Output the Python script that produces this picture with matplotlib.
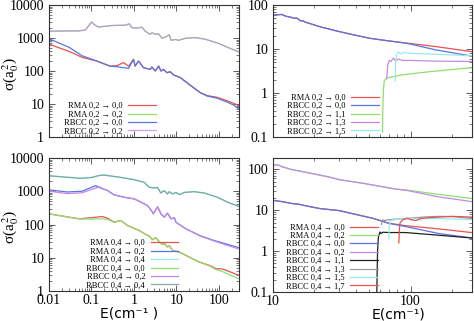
import matplotlib
matplotlib.use("Agg")
import matplotlib.pyplot as plt
from matplotlib.ticker import LogLocator, FuncFormatter, NullFormatter

plt.rcParams['font.family'] = ['Liberation Serif', 'DejaVu Serif']
plt.rcParams['mathtext.fontset'] = 'stix'

# ---- top left: j=2 initial state, elastic / rotational ----
tl_e_up = [0.01, 0.05, 0.071, 0.085, 0.1, 0.12, 0.146, 0.3, 0.62, 0.78, 0.9, 1.2, 1.55, 1.85,
           2.43, 2.66, 3.19, 3.83, 4.6, 5.5, 6.8, 7.6, 9.5, 11.3, 16.3, 28, 48, 100, 207, 300]
tl_rma_22 = [1620, 1650, 1750, 2300, 3100, 2500, 2150, 2400, 2450, 2700, 2050, 2000, 2150, 1620,
             1290, 1450, 1300, 1350, 980, 1070, 1250, 850, 910, 850, 980, 1030, 920, 680, 455, 380]
tl_rbcc_22 = [1600, 1640, 1720, 2250, 3000, 2450, 2150, 2380, 2450, 2650, 2050, 2000, 2100, 1600,
              1290, 1430, 1300, 1330, 980, 1060, 1230, 850, 900, 850, 980, 1030, 920, 680, 455, 380]

tl_e_lo = [0.01, 0.03, 0.06, 0.134, 0.276, 0.40, 0.57, 0.75, 0.98, 1.07, 1.29, 1.69, 2.43, 2.66,
           3.19, 3.83, 4.35, 5.0, 6.0, 7.2, 8.65, 12.4, 17.9, 25.6, 36.9, 53, 91, 157, 226, 300]
tl_rma_20 = [650, 390, 260, 200, 140, 145, 180, 140, 226, 141, 200, 126, 112, 132,
             100, 141, 100, 112, 89, 95, 76, 63, 44, 31, 22, 18, 16, 12.5, 10.5, 8.7]
tl_rbcc_20 = [950, 520, 290, 200, 140, 135, 126, 120, 226, 141, 200, 126, 112, 132,
              100, 141, 100, 112, 89, 95, 76, 63, 44, 31, 22, 17.5, 15, 11.5, 9.2, 6.9]

# ---- top right ----
tr_e = [10, 11.6, 12.3, 13.4, 14.1, 14.9, 15.8, 16.7, 17.1, 22, 29, 38.5, 50.7, 67, 88, 99, 154, 280]
tr_rma_20 = [59, 61, 56, 53, 50, 50.5, 44, 43, 41, 32, 25.7, 21, 17.5, 15.5, 13.9, 13.4, 11.3, 8.7]
tr_rbcc_20 = [59, 61, 56, 53, 50, 50.5, 44, 43, 41, 32, 25.7, 21, 17.5, 15.5, 13.9, 13.0, 9.5, 6.9]
tr_e_11 = [62.5, 63, 63.5, 64.5, 67, 74.8, 88, 138, 241, 280]
tr_rbcc_11 = [0.13, 0.5, 1.2, 1.9, 2.2, 2.35, 2.6, 3.05, 3.6, 3.75]
tr_e_13 = [67, 68.5, 70, 72, 75, 78, 82, 87, 100, 150, 280]
tr_rbcc_13 = [2.1, 4.5, 5.5, 5.2, 6.2, 5.4, 5.9, 5.5, 5.5, 5.3, 5.2]
tr_e_15 = [77.5, 78, 79, 82, 85, 90, 100, 150, 280]
tr_rbcc_15 = [1.9, 5, 7.5, 8.5, 7.8, 8.3, 8.0, 7.6, 7.0]

# ---- bottom left: j=4 initial state ----
bl_e_top = [0.01, 0.056, 0.1, 0.15, 0.2, 0.49, 1.02, 1.75, 2.3, 3.0, 3.6, 4.3, 5.2, 6.2, 6.8,
            8.2, 9.8, 11.8, 15.4, 26.6, 46, 95, 163, 300]
bl_rma_44 = [2950, 2450, 2600, 3000, 3100, 2630, 2240, 1860, 1320, 1260, 1320, 890, 1050, 830, 980,
             830, 930, 790, 930, 980, 890, 660, 470, 350]
bl_rbcc_44 = [2900, 2450, 2580, 2950, 3050, 2600, 2220, 1850, 1320, 1250, 1300, 890, 1040, 830, 970,
              830, 920, 790, 920, 970, 880, 650, 465, 345]

bl_e_mid = [0.01, 0.027, 0.06, 0.126, 0.152, 0.239, 0.343, 0.59, 1.02, 1.46, 2.1, 2.76, 2.86, 3.62,
            4.35, 5.2, 6.2, 7.5, 9.0, 9.8, 11.8, 16.9, 24.3, 35, 72, 149, 300]
bl_rma_42 = [1100, 950, 1000, 1480, 1300, 1050, 780, 660, 590, 470, 370, 234, 209, 340,
             210, 166, 219, 148, 160, 117, 100, 74, 59, 47, 34, 26, 20]
bl_rbcc_42 = [1000, 850, 900, 1250, 1350, 1050, 780, 660, 590, 470, 370, 234, 209, 340,
              210, 166, 219, 148, 160, 117, 100, 74, 59, 46, 33, 24, 18.5]

bl_e_lo = [0.01, 0.051, 0.1, 0.182, 0.25, 0.343, 0.49, 0.71, 1.34, 1.92, 2.3, 2.76, 3.3, 3.97,
           4.75, 5.2, 6.2, 6.8, 8.2, 11.8, 16.9, 24.3, 35, 60, 86, 120, 149, 300]
bl_rma_40 = [209, 148, 160, 174, 150, 117, 132, 93, 66, 50, 45, 35, 40, 30,
             25, 27, 21, 23, 16.6, 14.8, 11.7, 9.3, 7.4, 5.9, 4.7, 4.6, 4.2, 2.95]
bl_rbcc_40 = [209, 148, 145, 150, 140, 117, 132, 93, 66, 50, 45, 35, 40, 30,
              25, 27, 21, 23, 16.6, 14.8, 11.7, 9.3, 7.4, 5.7, 4.4, 3.9, 3.4, 2.34]

# ---- bottom right ----
br_e_top = [10, 11, 11.5, 13.2, 25.7, 30.3, 44.6, 78, 92, 160, 279]
br_rma_42 = [129, 127, 118, 102, 65, 56, 46, 33, 31.5, 24.5, 19.4]
br_rbcc_42 = [129, 127, 118, 102, 65, 56, 46, 33, 31, 21.3, 16.3]
br_e_lo = [10, 12, 13.2, 14, 15.5, 18, 22, 30.3, 52.8, 69.7, 92, 160, 279]
br_rma_40 = [17.5, 16, 15, 14.5, 14, 12.5, 11, 9.8, 6.4, 4.8, 4.2, 3.5, 2.85]
br_rbcc_40 = [17.5, 16, 15, 14.5, 14, 12.5, 11, 9.8, 6.4, 4.8, 4.0, 2.7, 2.1]
br_e_11 = [56.8, 57.2, 57.6, 58.4, 60, 61, 63, 70, 92, 160, 279]
br_rbcc_11 = [0.08, 0.3, 1.0, 2.2, 2.95, 2.7, 2.9, 2.85, 2.85, 2.45, 2.1]
br_e_13 = [61.5, 62.5, 65, 70, 80, 100, 130, 160, 200, 279]
br_rbcc_13 = [4.5, 5.8, 5.6, 5.9, 6.1, 6.4, 6.9, 7.1, 7.0, 6.3]
br_e_15 = [69.5, 70, 71, 75, 80, 100, 160, 279]
br_rbcc_15 = [2.0, 4.0, 5.6, 5.8, 6.0, 6.2, 6.3, 5.9]
br_e_17 = [82.3, 83, 84, 88, 95, 100, 109, 120, 136, 200, 279]
br_rbcc_17 = [1.6, 3.5, 5.0, 5.8, 6.4, 5.9, 5.6, 6.3, 6.6, 7.1, 6.8]

RED = '#e8524f'
GREEN = '#8ee06c'
BLUE = '#5875e0'
VIOLET = '#c48ae8'
CYAN = '#92ecf0'
BLACK = '#222222'
GRAY = '#9a9a9a'
TEAL = '#6f9f8f'

W, H = 474, 321
fig = plt.figure(figsize=(W / 100, H / 100), dpi=100)


def box(l, t, r, b):
    return [l / W, 1 - b / H, (r - l) / W, (b - t) / H]


ax_tl = fig.add_axes(box(49, 5, 239, 137))
ax_tr = fig.add_axes(box(273, 5, 472, 137))
ax_bl = fig.add_axes(box(49, 158, 239, 291))
ax_br = fig.add_axes(box(273, 158, 472, 292))

lw = 0.9
arrow = ' \u2192 '

ax_tl.plot(tl_e_lo, tl_rma_20, color=RED, lw=lw, label='RMA 0,2' + arrow + '0,0')
ax_tl.plot(tl_e_up, tl_rma_22, color=GREEN, lw=lw, label='RMA 0,2' + arrow + '0,2')
ax_tl.plot(tl_e_lo, tl_rbcc_20, color=BLUE, lw=lw, label='RBCC 0,2' + arrow + '0,0')
ax_tl.plot(tl_e_up, tl_rbcc_22, color=VIOLET, lw=lw, alpha=0.8, label='RBCC 0,2' + arrow + '0,2')

ax_tr.plot(tr_e, tr_rma_20, color=RED, lw=lw, label='RMA 0,2' + arrow + '0,0')
ax_tr.plot(tr_e, tr_rbcc_20, color=BLUE, lw=lw, label='RBCC 0,2' + arrow + '0,0')
ax_tr.plot(tr_e_11, tr_rbcc_11, color=GREEN, lw=lw, label='RBCC 0,2' + arrow + '1,1')
ax_tr.plot(tr_e_13, tr_rbcc_13, color=VIOLET, lw=lw, label='RBCC 0,2' + arrow + '1,3')
ax_tr.plot(tr_e_15, tr_rbcc_15, color=CYAN, lw=lw, label='RBCC 0,2' + arrow + '1,5')

ax_bl.plot(bl_e_lo, bl_rma_40, color=RED, lw=lw, label='RMA 0,4' + arrow + '0,0')
ax_bl.plot(bl_e_mid, bl_rma_42, color=BLUE, lw=lw, label='RMA 0,4' + arrow + '0,2')
ax_bl.plot(bl_e_top, bl_rma_44, color=CYAN, lw=lw, label='RMA 0,4' + arrow + '0,4')
ax_bl.plot(bl_e_lo, bl_rbcc_40, color=GREEN, lw=lw, label='RBCC 0,4' + arrow + '0,0')
ax_bl.plot(bl_e_mid, bl_rbcc_42, color=VIOLET, lw=lw, label='RBCC 0,4' + arrow + '0,2')
ax_bl.plot(bl_e_top, bl_rbcc_44, color=TEAL, lw=lw, alpha=0.85, label='RBCC 0,4' + arrow + '0,4')

ax_br.plot(br_e_lo, br_rma_40, color=RED, lw=lw, label='RMA 0,4' + arrow + '0,0')
ax_br.plot(br_e_top, br_rma_42, color=GREEN, lw=lw, label='RMA 0,4' + arrow + '0,2')
ax_br.plot(br_e_lo, br_rbcc_40, color=BLUE, lw=lw, label='RBCC 0,4' + arrow + '0,0')
ax_br.plot(br_e_top, br_rbcc_42, color=VIOLET, lw=lw, label='RBCC 0,4' + arrow + '0,2')
ax_br.plot(br_e_11, br_rbcc_11, color=BLACK, lw=lw, label='RBCC 0,4' + arrow + '1,1')
ax_br.plot(br_e_13, br_rbcc_13, color=GRAY, lw=lw, label='RBCC 0,4' + arrow + '1,3')
ax_br.plot(br_e_15, br_rbcc_15, color=CYAN, lw=lw, label='RBCC 0,4' + arrow + '1,5')
ax_br.plot(br_e_17, br_rbcc_17, color=RED, lw=lw, label='RBCC 0,4' + arrow + '1,7')

fmt = FuncFormatter(lambda v, p: '%g' % v)
for ax in (ax_tl, ax_tr, ax_bl, ax_br):
    ax.set_xscale('log')
    ax.set_yscale('log')
    ax.xaxis.set_major_locator(LogLocator(base=10, numticks=12))
    ax.yaxis.set_major_locator(LogLocator(base=10, numticks=12))
    ax.xaxis.set_minor_locator(LogLocator(base=10, subs=range(2, 10), numticks=12))
    ax.yaxis.set_minor_locator(LogLocator(base=10, subs=range(2, 10), numticks=12))
    ax.xaxis.set_major_formatter(fmt)
    ax.yaxis.set_major_formatter(fmt)
    ax.xaxis.set_minor_formatter(NullFormatter())
    ax.yaxis.set_minor_formatter(NullFormatter())
    ax.tick_params(which='both', direction='in', top=True, right=True, labelsize=10, color='#444444')
    ax.tick_params(which='major', length=4, width=0.6)
    ax.tick_params(which='minor', length=2, width=0.5)
    ax.tick_params(axis='x', pad=2)
    for s in ax.spines.values():
        s.set_linewidth(0.8)
        s.set_color('#333333')

for ax in (ax_tl, ax_bl):
    ax.set_xlim(0.01, 300)
    ax.set_ylim(1, 10000)
    ax.set_ylabel('\u03c3(a$_0^{\\,2}$)', fontsize=11)
    ax.yaxis.set_label_coords(-0.145, 0.48)
for ax in (ax_tr, ax_br):
    ax.set_xlim(10, 280)
ax_tr.set_ylim(0.1, 100)
ax_br.set_ylim(0.1, 190)
ax_tl.tick_params(labelbottom=False)
ax_tr.tick_params(labelbottom=False)

ax_bl.set_xlabel('E(cm\u207b\u00b9 )', fontsize=10, family='DejaVu Sans')
ax_bl.xaxis.set_label_coords(0.42, -0.12)
ax_br.set_xlabel('E(cm\u207b\u00b9)', fontsize=10, family='DejaVu Sans')
ax_br.xaxis.set_label_coords(0.63, -0.115)

leg_kw = dict(loc='lower right', frameon=False, markerfirst=False, fontsize=6,
              handlelength=3.3, handletextpad=0.7, labelspacing=0.05,
              borderpad=0.2, borderaxespad=0)
ax_tl.legend(bbox_to_anchor=(0.57, 0.0), **leg_kw)
ax_tr.legend(bbox_to_anchor=(0.54, 0.0), **leg_kw)
ax_bl.legend(bbox_to_anchor=(0.69, 0.0), **leg_kw)
ax_br.legend(bbox_to_anchor=(0.535, 0.0), **leg_kw)

fig.savefig('out.png', dpi=100)
plt.close(fig)
